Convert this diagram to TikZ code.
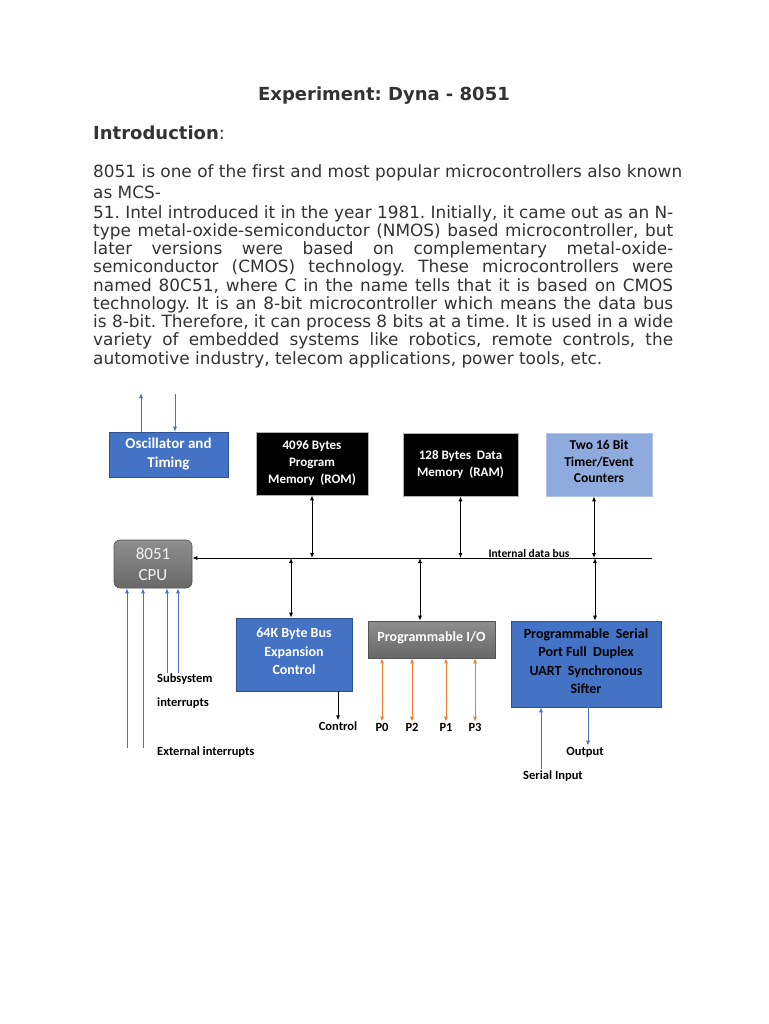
\documentclass[tikz,border=0pt]{standalone}
\usepackage{fontspec}
\setmainfont{DejaVu Sans}[Ligatures=NoCommon]
\newfontfamily\diagfont{Carlito}
\usetikzlibrary{arrows.meta,positioning}
\definecolor{wordblue}{HTML}{4472C4}
\definecolor{wordblueline}{HTML}{2F528F}
\definecolor{lightblue}{HTML}{8FAADC}
\definecolor{wordorange}{HTML}{ED7D31}
\definecolor{textgray}{HTML}{333333}
\definecolor{graytop}{HTML}{8E8E8E}
\definecolor{graybot}{HTML}{686868}
\tikzset{
  unitbox/.style={
    draw,
    line width=0.6pt,
    align=center,
    inner sep=2pt,
    font=\diagfont\bfseries\fontsize{14}{18.5}\selectfont
  },
  bluebox/.style={
    unitbox,
    draw=wordblueline,
    fill=wordblue,
    text=white
  },
  memorybox/.style={
    unitbox,
    draw=gray!60,
    fill=black,
    text=white,
    font=\diagfont\bfseries\fontsize{13}{17}\selectfont
  },
  timerbox/.style={
    unitbox,
    draw=lightblue!70!white,
    fill=lightblue,
    text=black,
    font=\diagfont\bfseries\fontsize{13.5}{16.5}\selectfont
  },
  graybox/.style={
    unitbox,
    draw=graybot!80!black,
    top color=graytop,
    bottom color=graybot,
    text=white
  },
  sigtag/.style={
    inner sep=1pt,
    font=\diagfont\bfseries\fontsize{12.5}{15}\selectfont
  },
  busline/.style={
    -{Latex[length=5pt,width=4pt]},
    line width=1pt,
    draw=black
  },
  busarrow/.style={
    busline,
    {Latex[length=5pt,width=4pt]}-{Latex[length=5pt,width=4pt]}
  },
  sigarrow/.style={
    -{Latex[length=5pt,width=4pt]},
    line width=0.9pt,
    draw=wordblue
  },
  portarrow/.style={
    {Latex[length=5pt,width=4pt]}-{Latex[length=5pt,width=4pt]},
    line width=0.9pt,
    draw=wordorange
  }
}

\begin{document}
\frenchspacing
\begin{tikzpicture}[x=1pt, y=-1pt]
    \useasboundingbox[fill=white] (0,0) rectangle (768,1024);

    % heading and introduction text
    \node[text=textgray, font=\bfseries\fontsize{18}{22}\selectfont] (title) at (384,96) {Experiment: Dyna - 8051};
    \node[anchor=west, inner sep=0pt, text=textgray, font=\fontsize{18}{22}\selectfont] (introhead) at (93,133) {\textbf{Introduction}:};
    \node[anchor=north west, inner sep=0pt, align=left, text=textgray, font=\fontsize{16.9}{21}\selectfont] (introtop) at (93,164) {
        8051 is one of the first and most popular microcontrollers also known\\
        as MCS-
    };
    \node[anchor=north west, inner sep=0pt, text width=580pt, align=justify, text=textgray, font=\fontsize{16.9}{18.25}\selectfont] (introbody) at (93,205) {
        \tolerance=10000
        51. Intel introduced it in the year 1981. Initially, it came out as an N-\linebreak
        type metal-oxide-semiconductor (NMOS) based microcontroller, but\linebreak
        later versions were based on complementary metal-oxide-\linebreak
        semiconductor (CMOS) technology. These microcontrollers were\linebreak
        named 80C51, where C in the name tells that it is based on CMOS\linebreak
        technology. It is an 8-bit microcontroller which means the data bus\linebreak
        is 8-bit. Therefore, it can process 8 bits at a time. It is used in a wide\linebreak
        variety of embedded systems like robotics, remote controls, the\linebreak
        automotive industry, telecom applications, power tools, etc.
    };

    % blocks
    \node[bluebox, minimum width=119pt, minimum height=45pt, font=\diagfont\bfseries\fontsize{15}{19}\selectfont] (osc) at (168.5,454.5) {Oscillator and\\Timing};
    \node[memorybox, minimum width=112pt, minimum height=63pt] (rom) at (312,463.5) {4096 Bytes\\Program\\Memory~~(ROM)};
    \node[memorybox, minimum width=115pt, minimum height=63pt] (ram) at (460.5,464.5) {128 Bytes~~Data\\Memory~~(RAM)};
    \node[timerbox, minimum width=106pt, minimum height=63pt] (timer) at (599,464.5) {Two 16 Bit\\Timer/Event\\Counters\\[-10.5pt]};
    \node[graybox, rounded corners=6pt, minimum width=78pt, minimum height=48pt, text=white!90!gray, font=\diagfont\fontsize{17}{21}\selectfont] (cpu) at (153,564) {8051\\CPU};
    \node[bluebox, minimum width=116pt, minimum height=73pt] (expbus) at (294,654.5) {64K Byte Bus\\Expansion\\Control\\[-12.5pt]};
    \node[graybox, minimum width=127pt, minimum height=37pt] (pio) at (431.5,639.5) {Programmable I/O\\[-12.5pt]};
    \node[bluebox, text=black, minimum width=150pt, minimum height=86pt] (serial) at (586,664) {Programmable~~Serial\\Port Full~~Duplex\\UART~~Synchronous\\Sifter\\[-12.5pt]};

    % internal data bus
    \coordinate (busend) at (652,558);
    \draw[busline] (busend) -- (cpu.east |- busend);
    \node[anchor=base, inner sep=0pt, font=\diagfont\bfseries\fontsize{11.5}{13}\selectfont] (buslabel) at (529,557) {Internal data bus};
    \draw[busarrow] (rom.south) -- (rom.south |- busend);
    \draw[busarrow] (ram.south) -- (ram.south |- busend);
    \draw[busarrow] ([xshift=-5pt]timer.south) -- ([xshift=-5pt]timer.south |- busend);
    \draw[busarrow] ([xshift=-3pt]expbus.north) -- ([xshift=-3pt]expbus.north |- busend);
    \draw[busarrow] ([xshift=-11.5pt]pio.north) -- ([xshift=-11.5pt]pio.north |- busend);
    \draw[busarrow] ([xshift=9pt]serial.north) -- ([xshift=9pt]serial.north |- busend);

    % clock lines
    \coordinate (clkout) at (141,393);
    \coordinate (clkin) at (175,394);
    \draw[sigarrow] (osc.north -| clkout) -- (clkout);
    \draw[sigarrow] (clkin) -- (osc.north -| clkin);

    % interrupts
    \coordinate (ext1) at (127,748);
    \coordinate (ext2) at (143,748);
    \coordinate (sub1) at (167,673);
    \coordinate (sub2) at (178,673);
    \foreach \irq in {ext1,ext2,sub1,sub2}
        \draw[sigarrow] (\irq) -- (\irq |- cpu.south);
    \node[sigtag, anchor=west] (subtag) at (156,679) {Subsystem};
    \node[sigtag, anchor=west] (subtag2) at (156,703) {interrupts};
    \node[sigtag, anchor=west] (exttag) at (156,752) {External interrupts};

    % bus control
    \node[sigtag] (ctrl) at (338,726) {Control};
    \draw[busline] (expbus.south -| ctrl) -- (ctrl.north);

    % ports
    \foreach \port/\px in {P0/382, P2/412, P1/446, P3/475} {
        \node[sigtag] (\port) at (\px,727) {\port};
        \draw[portarrow] (pio.south -| \port) -- (\port.north);
    }

    % serial lines
    \node[sigtag] (serin) at (553,776) {Serial Input};
    \node[sigtag] (serout) at (585,752) {Output};
    \draw[sigarrow] ([xshift=-12pt]serin.north) -- ([xshift=-12pt]serin.north |- serial.south);
    \draw[sigarrow] ([xshift=3pt]serout.north |- serial.south) -- ([xshift=3pt]serout.north);
\end{tikzpicture}
\end{document}
